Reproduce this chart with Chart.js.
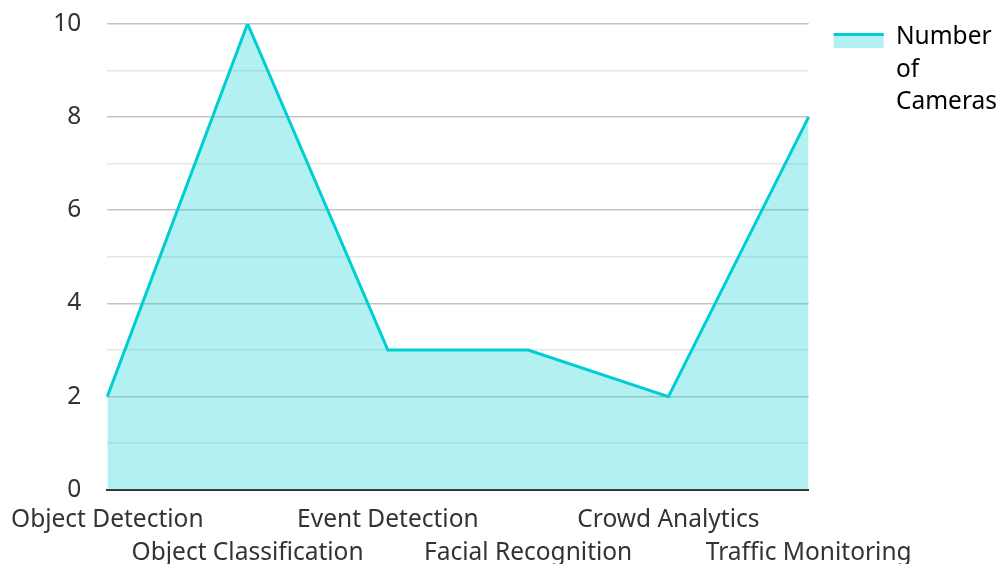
<!DOCTYPE html>
<html>
<head>
<meta charset="utf-8">
<script src="https://cdn.jsdelivr.net/npm/chart.js@4/dist/chart.umd.min.js"></script>
<style>
  html, body { margin: 0; padding: 0; background: #fff; }
  #wrap { width: 999px; height: 564px; }
</style>
</head>
<body>
<div id="wrap"><canvas id="chart"></canvas></div>
<script>
const categories = ["Object Detection", "Object Classification", "Event Detection", "Facial Recognition", "Crowd Analytics", "Traffic Monitoring"];
const cameras = [2, 10, 3, 3, 2, 8];
const seriesName = ["Number", "of", "Cameras"];

const teal = "#00CED1";
const tealFill = "rgba(0,206,209,0.3)";
const fontFam = "'Noto Sans', sans-serif";

// legend swatch: light fill with a thick line along the top, like the original
const legendSwatch = {
  id: "legendSwatch",
  afterDraw(chart) {
    const lg = chart.legend;
    if (!lg || !lg.legendHitBoxes) return;
    const ctx = chart.ctx;
    const bw = lg.options.labels.boxWidth;
    lg.legendHitBoxes.forEach((hb) => {
      const top = hb.top + 8;
      ctx.save();
      ctx.fillStyle = tealFill;
      ctx.fillRect(hb.left, top, bw, 15);
      ctx.strokeStyle = teal;
      ctx.lineWidth = 3;
      ctx.beginPath();
      ctx.moveTo(hb.left, top + 1.5);
      ctx.lineTo(hb.left + bw, top + 1.5);
      ctx.stroke();
      ctx.restore();
    });
  }
};

new Chart(document.getElementById("chart").getContext("2d"), {
  type: "line",
  data: {
    labels: categories,
    datasets: [{
      label: seriesName,
      data: cameras,
      borderColor: teal,
      backgroundColor: tealFill,
      borderWidth: 3,
      fill: "origin",
      tension: 0,
      pointRadius: 0,
    }]
  },
  plugins: [legendSwatch],
  options: {
    responsive: true,
    maintainAspectRatio: false,
    animation: false,
    layout: { padding: { left: -4, right: -8, top: 0, bottom: -20 } },
    scales: {
      x: {
        offset: false,
        grid: { display: false, drawTicks: false },
        border: { display: true, color: "#333", width: 2 },
        afterFit: (s) => { s.paddingLeft = Math.max(s.paddingLeft - 3, 0); },
        ticks: {
          autoSkip: false,
          maxRotation: 0,
          padding: 14,
          color: "#333",
          font: { family: fontFam, size: 24.5, lineHeight: 1.35 },
          callback: function (v, i) {
            const t = categories[i];
            return i % 2 === 0 ? [t, ""] : ["", t];
          }
        }
      },
      y: {
        min: 0,
        max: 10,
        grid: {
          drawTicks: true,
          tickLength: 17,
          tickColor: "rgba(0,0,0,0)",
          color: (c) => (c.tick && c.tick.value % 2 === 0 ? "#c4c4c4" : "#e6e6e6"),
          lineWidth: 1.5
        },
        border: { display: false },
        ticks: {
          stepSize: 1,
          padding: 9,
          color: "#333",
          font: { family: fontFam, size: 24.5 },
          callback: (v) => (v % 2 === 0 ? v : "")
        }
      }
    },
    plugins: {
      legend: {
        position: "right",
        align: "start",
        labels: {
          boxWidth: 50,
          boxHeight: 15,
          padding: 25,
          color: "#333",
          font: { family: fontFam, size: 24.5, lineHeight: 1.33 },
          generateLabels: () => [{
            text: seriesName,
            fillStyle: "rgba(0,0,0,0)",
            strokeStyle: "rgba(0,0,0,0)",
            lineWidth: 0,
            datasetIndex: 0
          }]
        }
      },
      tooltip: { enabled: false }
    }
  }
});
</script>
</body>
</html>
